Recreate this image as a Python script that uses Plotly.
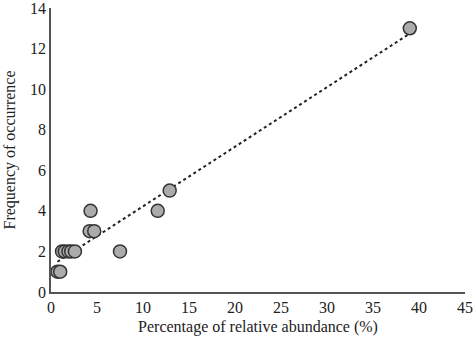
import numpy as np
import plotly.graph_objects as go

abundance = [0.7, 1.0, 1.2, 1.5, 1.9, 2.2, 2.6, 4.2, 4.7, 4.3, 7.5, 11.6, 12.9, 39.0]
frequency = [1, 1, 2, 2, 2, 2, 2, 3, 3, 4, 2, 4, 5, 13]

x_ticks = [0, 5, 10, 15, 20, 25, 30, 35, 40, 45]
y_ticks = [0, 2, 4, 6, 8, 10, 12, 14]

slope, intercept = np.polyfit(abundance, frequency, 1)
xl = np.array([min(abundance), max(abundance)])
yl = slope * xl + intercept

fig = go.Figure()
fig.add_trace(go.Scatter(x=xl, y=yl, mode="lines",
                         line=dict(color="#222222", width=2, dash="dot"),
                         hoverinfo="skip", showlegend=False))
fig.add_trace(go.Scatter(x=abundance, y=frequency, mode="markers",
                         marker=dict(size=13, color="#ababab",
                                     line=dict(color="#333333", width=1.5)),
                         showlegend=False))

font = dict(family="Liberation Serif, Times New Roman, serif", size=16, color="#222222")
fig.update_layout(
    width=474, height=339,
    margin=dict(l=51, r=9, t=8, b=47),
    paper_bgcolor="white", plot_bgcolor="white",
    font=font,
    xaxis=dict(range=[0, 45], tickvals=x_ticks, showgrid=False, zeroline=False,
               showline=True, linecolor="#555555", linewidth=2, ticks="",
               ticklabeloverflow="allow", automargin=False,
               title=dict(text="Percentage of relative abundance (%)", font=font, standoff=6)),
    yaxis=dict(range=[0, 14], tickvals=y_ticks, showgrid=False, zeroline=False,
               showline=True, linecolor="#555555", linewidth=1.5, ticks="",
               ticklabeloverflow="allow", automargin=False,
               title=dict(text="Frequency of occurrence", font=font, standoff=10)),
)
fig.write_html("out.html")
